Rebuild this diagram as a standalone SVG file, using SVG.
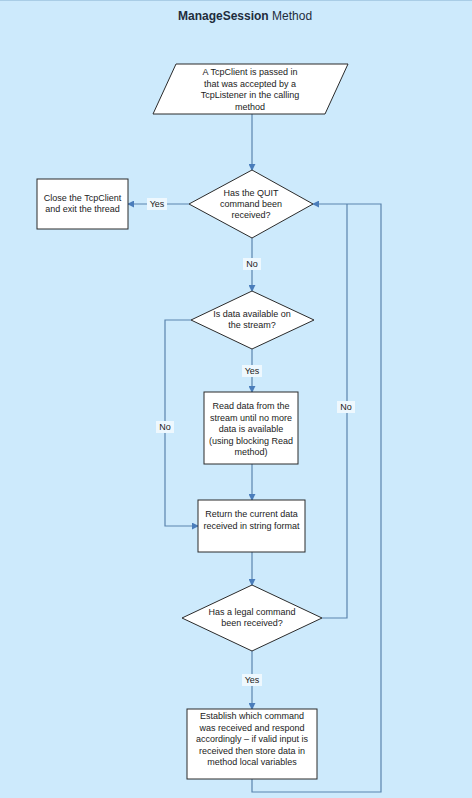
<svg xmlns="http://www.w3.org/2000/svg" width="472" height="798" viewBox="0 0 472 798">
<style>
.bg{fill:#cdeafc}
.shape{fill:#ffffff;stroke:#2b2b2b;stroke-width:1}
.t{font-family:"Liberation Sans",Arial,sans-serif;font-size:9px;fill:#222;text-anchor:middle}
.title{font-family:"Liberation Sans",Arial,sans-serif;font-size:12px;fill:#1f2d3d}
.c{fill:none;stroke:#5a84ad;stroke-width:1.2}
.lbl{fill:#eef8fe}
</style>
<defs>
<marker id="arr" viewBox="0 0 8 8" refX="7" refY="4" markerWidth="7" markerHeight="7" markerUnits="userSpaceOnUse" orient="auto">
<path d="M0,0 L8,4 L0,8 Z" fill="#4a7dbb"/>
</marker>
</defs>
<rect class="bg" x="0" y="0" width="472" height="798"/>
<line x1="0" y1="0.5" x2="472" y2="0.5" stroke="#a9cde6" stroke-width="1"/>
<text class="title" x="178" y="20"><tspan font-weight="bold">ManageSession</tspan> Method</text>

<g id="connectors">
<path class="c" d="M252,114 L252,170" marker-end="url(#arr)"/>
<path class="c" d="M189,204 L128,204" marker-end="url(#arr)"/>
<path class="c" d="M252,238 L252,291" marker-end="url(#arr)"/>
<path class="c" d="M252,349 L252,392" marker-end="url(#arr)"/>
<path class="c" d="M191,320 L165,320 L165,526 L198,526" marker-end="url(#arr)"/>
<path class="c" d="M252,464 L252,500" marker-end="url(#arr)"/>
<path class="c" d="M252,552 L252,585" marker-end="url(#arr)"/>
<path class="c" d="M322,618 L347,618 L347,204"/>
<path class="c" d="M252,651 L252,709" marker-end="url(#arr)"/>
<path class="c" d="M252,779 L252,792 L381,792 L381,204 L313,204" marker-end="url(#arr)"/>
<rect class="lbl" x="147" y="198" width="20" height="12"/>
<text class="t" x="157" y="207">Yes</text>
<rect class="lbl" x="243" y="258" width="18" height="12"/>
<text class="t" x="252" y="267">No</text>
<rect class="lbl" x="242" y="365" width="20" height="12"/>
<text class="t" x="252" y="374">Yes</text>
<rect class="lbl" x="156" y="421" width="18" height="12"/>
<text class="t" x="165" y="430">No</text>
<rect class="lbl" x="337" y="401" width="18" height="12"/>
<text class="t" x="346" y="410">No</text>
<rect class="lbl" x="242" y="674" width="20" height="12"/>
<text class="t" x="252" y="683">Yes</text>
</g>

<g id="start">
<polygon class="shape" points="176,64 348,64 325,114 153,114"/>
<text class="t" x="250" y="75">A TcpClient is passed in</text>
<text class="t" x="250" y="86.5">that was accepted by a</text>
<text class="t" x="250" y="98">TcpListener in the calling</text>
<text class="t" x="250" y="109.5">method</text>
</g>

<g id="quit">
<polygon class="shape" points="252,170 313,204 252,238 189,204"/>
<text class="t" x="251" y="196">Has the QUIT</text>
<text class="t" x="251" y="207">command been</text>
<text class="t" x="251" y="218">received?</text>
</g>

<g id="close">
<rect class="shape" x="37" y="179" width="91" height="50"/>
<text class="t" x="82.5" y="201">Close the TcpClient</text>
<text class="t" x="82.5" y="212">and exit the thread</text>
</g>

<g id="available">
<polygon class="shape" points="252,291 314,320 252,349 191,320"/>
<text class="t" x="252" y="317">Is data available on</text>
<text class="t" x="252" y="328">the stream?</text>
</g>

<g id="read">
<rect class="shape" x="204" y="392" width="94" height="72"/>
<text class="t" x="251" y="409">Read data from the</text>
<text class="t" x="251" y="420.5">stream until no more</text>
<text class="t" x="251" y="432">data is available</text>
<text class="t" x="251" y="443.5">(using blocking Read</text>
<text class="t" x="251" y="455">method)</text>
</g>

<g id="return">
<rect class="shape" x="198" y="500" width="107" height="52"/>
<text class="t" x="251.5" y="517">Return the current data</text>
<text class="t" x="251.5" y="529">received in string format</text>
</g>

<g id="legal">
<polygon class="shape" points="252,585 322,618 252,651 182,618"/>
<text class="t" x="252" y="615">Has a legal command</text>
<text class="t" x="252" y="626">been received?</text>
</g>

<g id="establish">
<rect class="shape" x="187" y="709" width="130" height="70"/>
<text class="t" x="252" y="719">Establish which command</text>
<text class="t" x="252" y="730.5">was received and respond</text>
<text class="t" x="252" y="742">accordingly – if valid input is</text>
<text class="t" x="252" y="753.5">received then store data in</text>
<text class="t" x="252" y="765">method local variables</text>
</g>
</svg>
